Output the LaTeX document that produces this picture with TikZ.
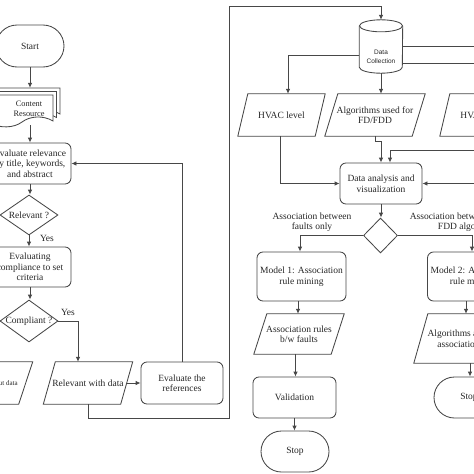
\documentclass[tikz,border=0pt]{standalone}
\usepackage{fontspec}
\setmainfont{Liberation Serif}
\newfontfamily\sansf{Liberation Sans}
\usetikzlibrary{shapes.geometric,shapes.misc,arrows.meta}
\newcommand\paral[2]{\draw[line] ([xshift=#2pt]#1.north west) -- ([xshift=#2pt]#1.north east) -- ([xshift=-#2pt]#1.south east) -- ([xshift=-#2pt]#1.south west) -- cycle;}
\begin{document}
\begin{tikzpicture}[x=1pt,y=-1pt,
  every node/.style={font=\fontsize{9.5}{10.5}\selectfont, text=black!85, align=center, inner sep=0pt},
  line/.style={draw=black!72, line width=0.85pt},
  arr/.style={line, -{Latex[length=5pt,width=4.5pt]}},
  rbox/.style={draw=black!72, line width=0.85pt, rounded corners=6pt},
  term/.style={draw=black!72, line width=0.85pt, rounded rectangle},
  dia/.style={draw=black!72, line width=0.85pt, diamond},
  pbox/.style={rectangle},
  lab/.style={font=\fontsize{9.5}{10.5}\selectfont}
]
\useasboundingbox (0,0) rectangle (474,474);
\clip (0,0) rectangle (474,474);

% ---------- left column ----------
\node[term, minimum width=68pt, minimum height=42pt] (start) at (30,46) {Start};

% content resource (multi-document)
\foreach \d in {7,3.5,0}{
  \draw[line, fill=white] ({-12+\d},{95-\d}) -- ({53+\d},{95-\d}) -- ({53+\d},{121-\d})
     .. controls ({43+\d},{115-\d}) and ({30+\d},{116-\d}) .. ({22+\d},{122-\d})
     .. controls ({14+\d},{128-\d}) and ({0+\d},{129-\d}) .. ({-12+\d},{122-\d}) -- cycle;
}
\node[pbox, minimum width=70pt, minimum height=37pt] (cr) at (25,106.5) {};
\node[font=\fontsize{8.3}{9.8}\selectfont] (crtext) at (29,109) {Content\\Resource};

\node[rbox, minimum width=82pt, minimum height=41pt] (evrel) at (30,163.5) {Evaluate relevance\\by title, keywords,\\and abstract};
\node[dia, minimum width=58pt, minimum height=40pt] (rel) at (29,215) {};
\node (reltext) at (rel) {Relevant ?};
\node[rbox, minimum width=82pt, minimum height=40pt] (evcomp) at (30,267) {Evaluating\\compliance to set\\criteria};
\node[dia, minimum width=58pt, minimum height=42pt] (comp) at (29,321) {};
\node (comptext) at (comp) {Compliant ?};

\node[pbox, minimum width=77pt, minimum height=42pt] (relwd) at (88,383) {Relevant with data};
\paral{relwd}{6}
\node[pbox, minimum width=77pt, minimum height=42pt, font=\fontsize{7}{8}\selectfont] (relwod) at (-13,383) {Relevant without data};
\paral{relwod}{7}
\node[rbox, minimum width=82pt, minimum height=42pt] (evref) at (182,383) {Evaluate the\\references};

\draw[arr] (start.south) -- (start.south |- cr.north);
\draw[arr] (evrel.north |- cr.south) -- (evrel.north);
\draw[arr] (evrel.south) -- (evrel.south |- rel.north);
\draw[arr] (rel.south) -- (rel.south |- evcomp.north);
\node[lab] (yes1) at (47,238) {Yes};
\draw[arr] (evcomp.south) -- (evcomp.south |- comp.north);
\coordinate (cy) at (78,321);
\draw[arr] (comp.east) -- (cy) -- (cy |- relwd.north);
\node[lab] (yes2) at (68,312) {Yes};
\draw[arr] (relwd.east) -- (evref.west);
\draw[arr] (evref.north) |- (evrel.east);
\coordinate (c1) at (229,418);
\coordinate (c2) at (229,6);

% ---------- right part ----------
\node[pbox, minimum width=43pt, minimum height=53pt] (dc) at (381,46.5) {};
\draw[line] ([yshift=-6pt]dc.north west) -- ([yshift=6pt]dc.south west)
   arc[start angle=180, end angle=360, x radius=21.5pt, y radius=6pt]
   -- ([yshift=-6pt]dc.north east);
\draw[line] ([yshift=-6pt]dc.north) ellipse [x radius=21.5pt, y radius=6pt];
\node[font=\sansf\fontsize{6.5}{9}\selectfont] (dctext) at (381,56.5) {Data\\Collection};

\draw[arr] (relwd.south) |- (c1) -- (c2) -| (dc.north);

\node[pbox, minimum width=77pt, minimum height=42pt] (hvac) at (281.5,115) {HVAC level};
\paral{hvac}{5}
\node[pbox, minimum width=87pt, minimum height=42pt] (alg) at (375,115) {Algorithms used for\\FD/FDD};
\paral{alg}{6.5}
\node[pbox, minimum width=80pt, minimum height=42pt] (hvac2) at (485,115) {HVAC faults};
\paral{hvac2}{5}

\coordinate (dcl) at (288,55);
\draw[arr] ([yshift=-8.5pt]dc.west) -- (dcl) -- (dcl |- hvac.north);
\draw[arr] (dc.south) -- (dc.south |- alg.north);
\coordinate (r1) at (480,46.5);
\coordinate (r2) at (480,63);
\draw[line] (dc.east) -- (r1);
\draw[line] ([yshift=-16.5pt]dc.east) -- (r2);

\node[rbox, minimum width=82pt, minimum height=41pt] (da) at (381,183.5) {Data analysis and\\visualization};
\coordinate (hv) at (280,136);
\draw[arr] (hv) |- (da.west);
\coordinate (ab) at (375,136);
\coordinate (ak) at (375,141);
\draw[arr] (ab) -- (ak) -| (da.north);
\coordinate (r3) at (480,150);
\draw[arr] (r3) -| ([xshift=9pt]da.north);
\coordinate (r4) at (480,183.5);
\draw[arr] (r4) -- (da.east);

\node[dia, minimum width=34pt, minimum height=35pt] (dec) at (380.5,235.5) {};
\draw[arr] (da.south) -- (da.south |- dec.north);
\node[lab] (l1) at (312,222) {Association between\\faults only};
\node[lab] (l2) at (469,222) {Association between faults and\\FDD algorithms};

\node[rbox, minimum width=89pt, minimum height=49pt] (m1) at (301.5,276.5) {Model 1: Association\\rule mining};
\node[rbox, minimum width=89pt, minimum height=49pt] (m2) at (472,276.5) {Model 2: Association\\rule mining};
\coordinate (d1) at (300,235.5);
\draw[arr] (dec.west) -- (d1) -- (d1 |- m1.north);
\draw[arr] (dec.east) -| (m2.north);

\node[pbox, minimum width=77pt, minimum height=40pt] (arb) at (299,334) {Association rules\\b/w faults};
\paral{arb}{6.5}
\node[rbox, minimum width=83pt, minimum height=41pt] (val) at (294.5,397.5) {Validation};
\node[term, minimum width=68pt, minimum height=41pt] (stop) at (295,451.5) {Stop};
\coordinate (m1b) at (298,301);
\draw[arr] (m1b) -- (m1b |- arb.north);
\coordinate (arbb) at (295.5,354);
\draw[arr] (arbb) -- (arbb |- val.north);
\draw[arr] (val.south) -- (val.south |- stop.north);

\node[pbox, minimum width=96pt, minimum height=49pt] (alg2) at (469,338.5) {Algorithms and faults\\association rules};
\paral{alg2}{7}
\node[term, minimum width=70pt, minimum height=41pt] (stop2) at (469,397.5) {Stop};
\coordinate (m2b) at (466,301);
\draw[arr] (m2b) -- (m2b |- alg2.north);
\coordinate (a2b) at (470,363);
\draw[arr] (a2b) -- (a2b |- stop2.north);
\end{tikzpicture}
\end{document}
